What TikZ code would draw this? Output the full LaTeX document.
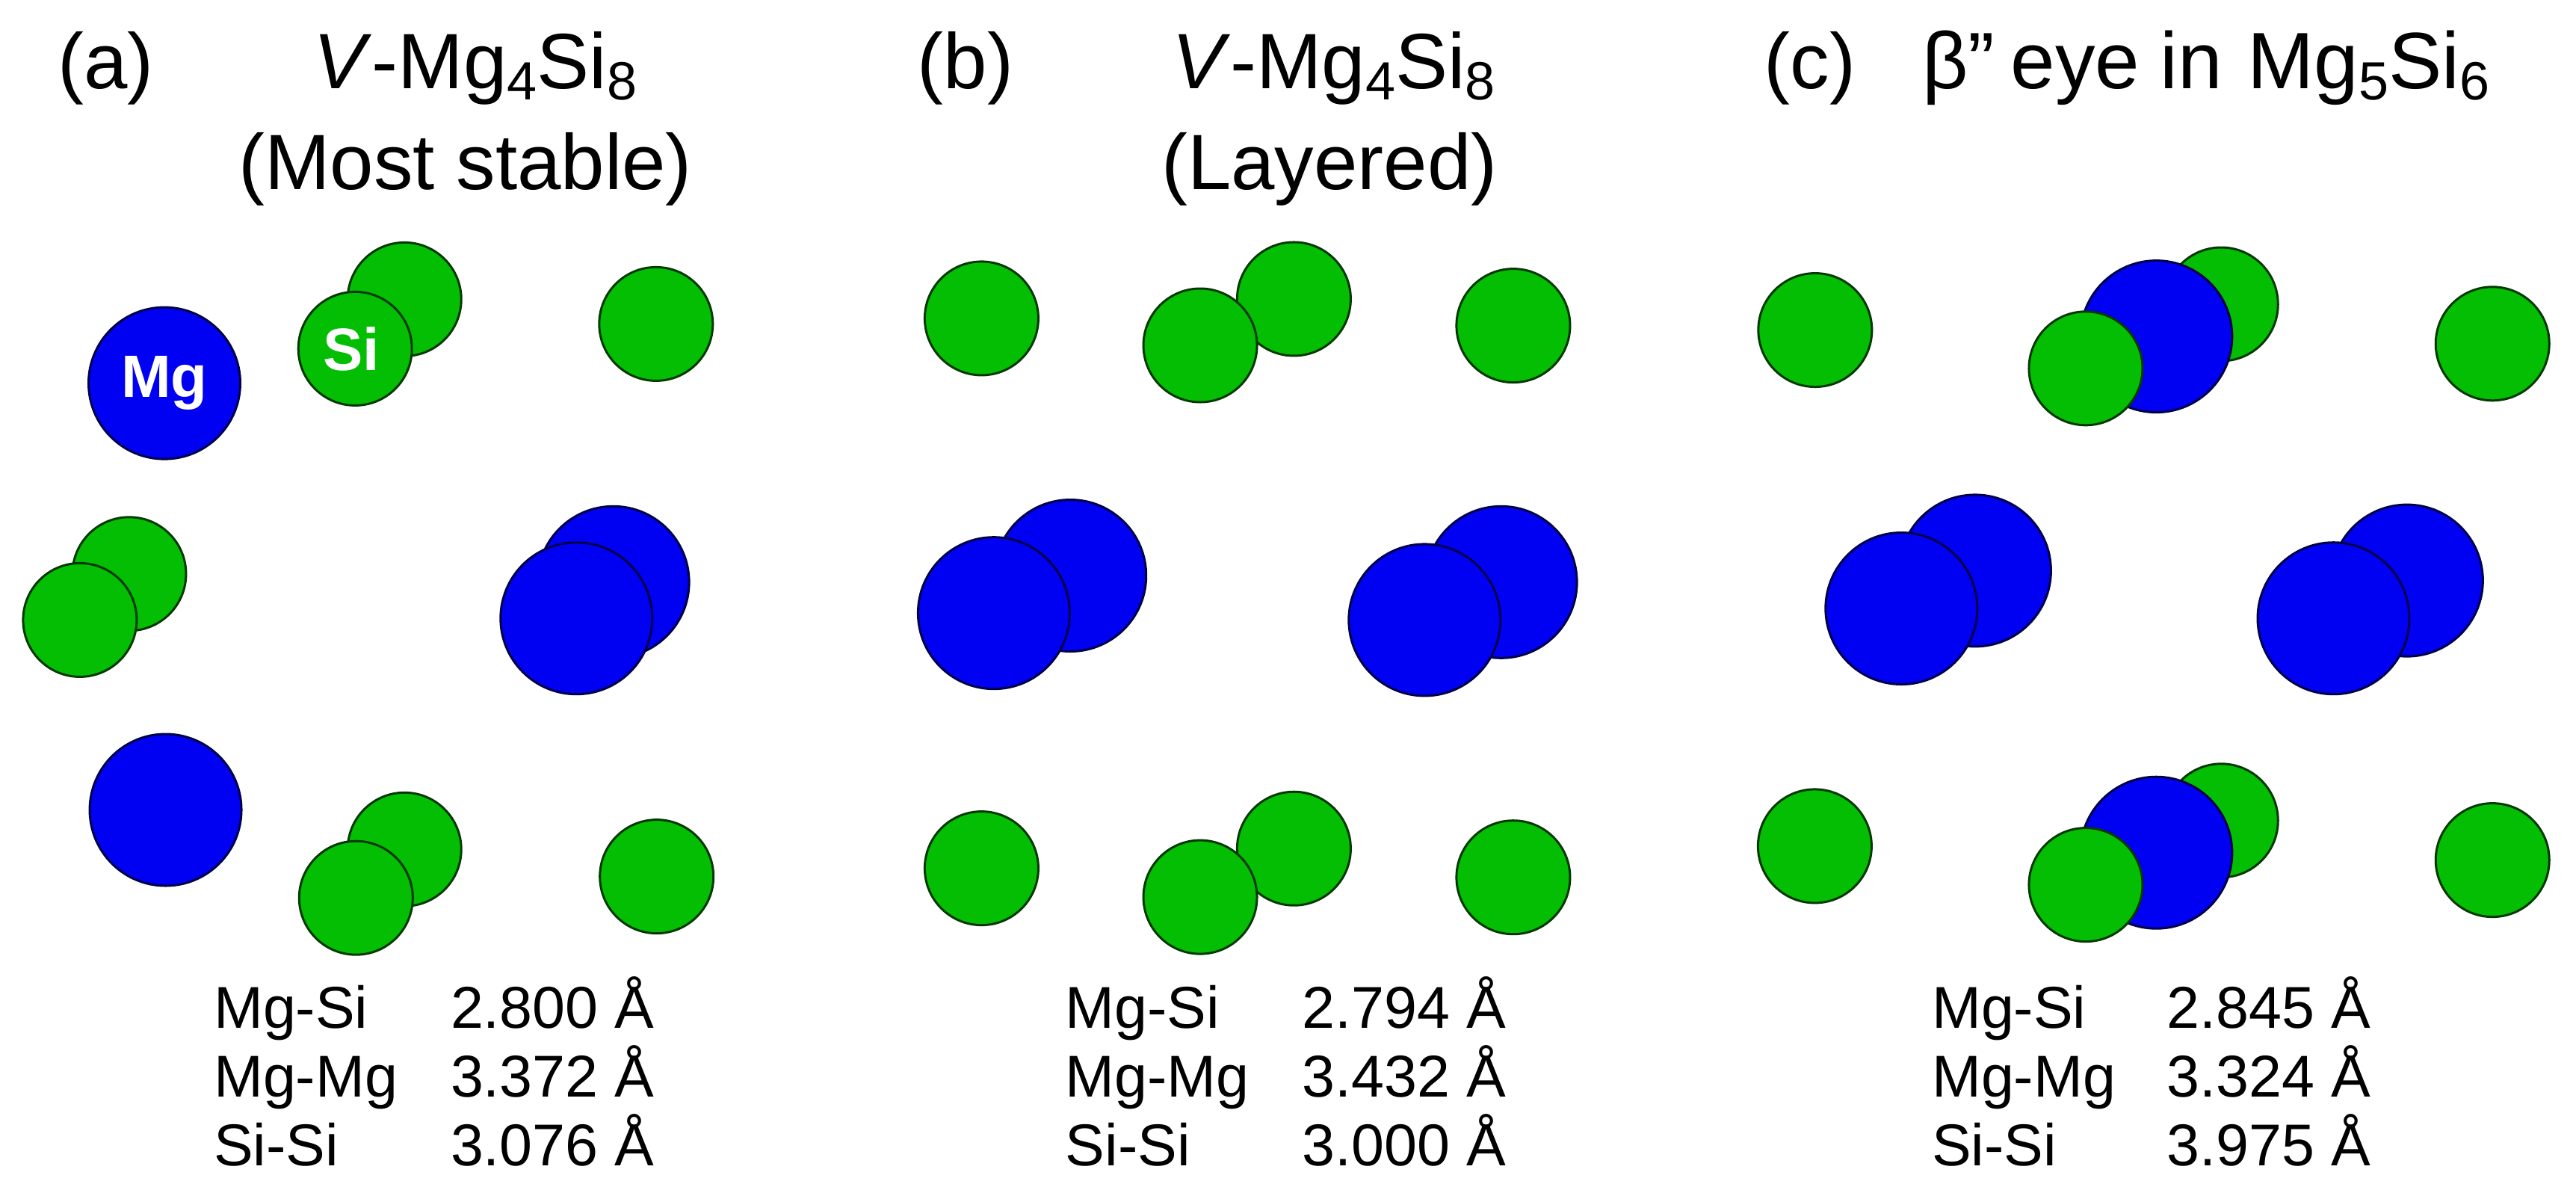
\documentclass[tikz,border=0pt]{standalone}
\usepackage{fontspec}
\setmainfont{Liberation Sans}
\definecolor{sigreen}{RGB}{4,190,4}
\definecolor{mgblue}{RGB}{0,0,242}
\newcommand{\tfont}{\fontsize{105}{115}\selectfont}
\newcommand{\cfont}{\fontsize{107}{115}\selectfont}
\newcommand{\sfont}{\fontsize{72}{78}\selectfont}
\newcommand{\lfont}{\fontsize{79}{85}\selectfont}
\newcommand{\lowd}[1]{\raisebox{-15pt}{\sfont #1}}
\tikzset{
  atomsi/.style={circle,draw=black!70!sigreen,line width=3pt,fill=sigreen,minimum size=152pt,inner sep=0pt,text=white,font={\fontsize{80}{85}\selectfont\bfseries}},
  atommg/.style={circle,draw=black!70!mgblue,line width=3pt,fill=mgblue,minimum size=203pt,inner sep=0pt,text=white,font={\fontsize{80}{85}\selectfont\bfseries}},
  title/.style={anchor=base,inner sep=0pt,font=\tfont},
  panel/.style={anchor=base west,inner sep=0pt,font=\tfont},
  tab/.style={anchor=base west,inner sep=0pt,font=\lfont}
}
\begin{document}
\begin{tikzpicture}[x=2.2pt,y=-2.2pt]
\useasboundingbox[fill=white] (0,0) rectangle (1566.8,725);
% panel (a)
\node[panel] (la) at (35,54) {(a)};
\node[title] (ta1) at (289,54) {\textit{V}-Mg\lowd{4}Si\lowd{8}};
\node[title] (ta2) at (283,115) {(Most stable)};
\node[atommg] (a1) at (100,233) {Mg};
\node[atomsi] (a2) at (246,182) {};
\node[atomsi] (a3) at (216,212) {Si\hspace*{10pt}};
\node[atomsi] (a4) at (399,197) {};
\node[atomsi] (a5) at (78.6,349) {};
\node[atomsi] (a6) at (48.6,377) {};
\node[atommg] (a7) at (373,354) {};
\node[atommg] (a8) at (350.6,376) {};
\node[atommg] (a9) at (100.7,492.5) {};
\node[atomsi] (a10) at (246,516.5) {};
\node[atomsi] (a11) at (216.5,546) {};
\node[atomsi] (a12) at (399.4,533) {};
\node[tab] (a13) at (130,625) {Mg-Si};
\node[tab] (a14) at (274,625) {2.800 Å};
\node[tab] (a15) at (130,667) {Mg-Mg};
\node[tab] (a16) at (274,667) {3.372 Å};
\node[tab] (a17) at (130,709) {Si-Si};
\node[tab] (a18) at (274,709) {3.076 Å};
% panel (b)
\node[panel] (lb) at (558,54) {(b)};
\node[title] (tb1) at (811,54) {\textit{V}-Mg\lowd{4}Si\lowd{8}};
\node[title] (tb2) at (808.5,115) {(Layered)};
\node[atomsi] (b1) at (597,193.6) {};
\node[atomsi] (b2) at (787,181.8) {};
\node[atomsi] (b3) at (730,210) {};
\node[atomsi] (b4) at (920.4,198) {};
\node[atommg] (b5) at (651,350) {};
\node[atommg] (b6) at (604.5,372.8) {};
\node[atommg] (b7) at (913,354) {};
\node[atommg] (b8) at (866.5,377) {};
\node[atomsi] (b9) at (597,528) {};
\node[atomsi] (b10) at (787,516) {};
\node[atomsi] (b11) at (730,545.5) {};
\node[atomsi] (b12) at (920.4,533.5) {};
\node[tab] (b13) at (648,625) {Mg-Si};
\node[tab] (b14) at (792,625) {2.794 Å};
\node[tab] (b15) at (648,667) {Mg-Mg};
\node[tab] (b16) at (792,667) {3.432 Å};
\node[tab] (b17) at (648,709) {Si-Si};
\node[tab] (b18) at (792,709) {3.000 Å};
% panel (c)
\node[panel] (lc) at (1073,54) {(c)};
\node[panel,font=\cfont] (tc1) at (1169,54) {\makebox[118.8pt][l]{β”}\makebox[200.2pt][l]{eye}\makebox[116.6pt][l]{in}Mg\lowd{5}Si\lowd{6}};
\node[atomsi] (c1) at (1104,200.7) {};
\node[atomsi] (c2) at (1351,185) {};
\node[atommg] (c3) at (1311.5,204.6) {};
\node[atomsi] (c4) at (1268.6,224) {};
\node[atomsi] (c5) at (1516,209) {};
\node[atommg] (c6) at (1201.3,347) {};
\node[atommg] (c7) at (1156.5,370) {};
\node[atommg] (c8) at (1464,353) {};
\node[atommg] (c9) at (1419.3,376) {};
\node[atomsi] (c10) at (1103.8,514.5) {};
\node[atomsi] (c11) at (1351,499) {};
\node[atommg] (c12) at (1311.5,518.5) {};
\node[atomsi] (c13) at (1268.6,538) {};
\node[atomsi] (c14) at (1516,523) {};
\node[tab] (c15) at (1175,625) {Mg-Si};
\node[tab] (c16) at (1318,625) {2.845 Å};
\node[tab] (c17) at (1175,667) {Mg-Mg};
\node[tab] (c18) at (1318,667) {3.324 Å};
\node[tab] (c19) at (1175,709) {Si-Si};
\node[tab] (c20) at (1318,709) {3.975 Å};
\end{tikzpicture}
\end{document}
